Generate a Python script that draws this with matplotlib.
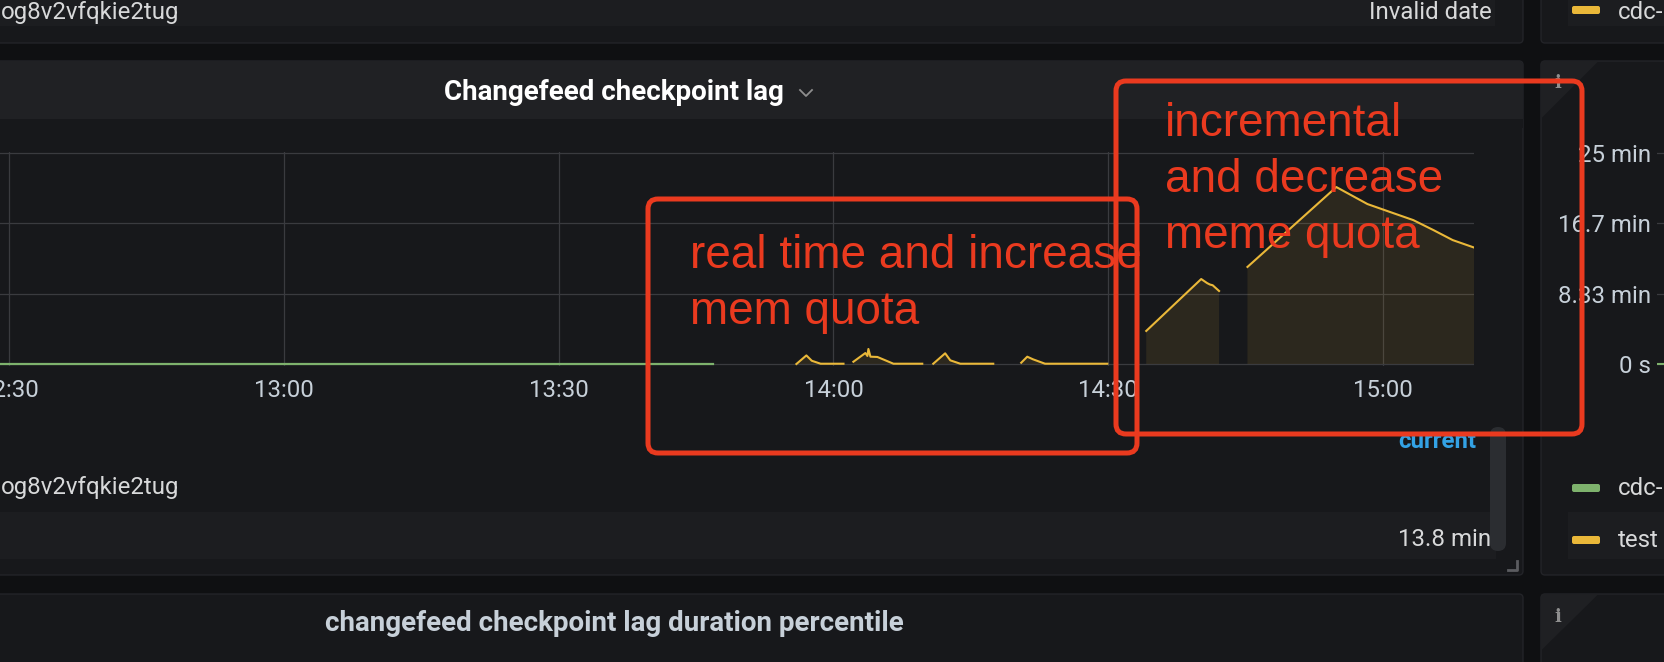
import matplotlib
matplotlib.use("Agg")
import matplotlib.pyplot as plt
import numpy as np
from matplotlib.patches import FancyBboxPatch, Rectangle, Polygon

plt.rcParams['font.family'] = ['Roboto', 'DejaVu Sans']

W, H = 1664, 662
nan = np.nan

# ---------------- data ----------------
# time axis: minutes after 12:00
x_tick_pos = [30, 60, 90, 120, 150, 180]
x_tick_labels = ["12:30", "13:00", "13:30", "14:00", "14:30", "15:00"]
y_tick_vals = [0, 500, 1000, 1500]          # seconds
y_tick_labels = ["0 s", "8.33 min", "16.7 min", "25 min"]

green_t = [29.0, 106.9]
green_v = [0, 0]

test_t = [115.96, 117.05, 117.64, 118.6, 121.1, 121.6,
          122.18, 123.49, 123.71, 123.82, 124.04, 124.8, 126.55, 129.7, 130.3,
          130.9, 132.2, 132.76, 133.85, 137.45, 139.0,
          140.5, 141.16, 141.8, 143.1, 149.9, 152.0,
          154.15, 160.15, 160.8, 161.1, 161.4, 162.1, 163.5,
          165.2, 174.9, 178.3, 181.1, 183.3, 185.5, 187.6, 189.93]
test_v = [0, 61, 23, 2, 2, nan,
          16, 78, 57, 107, 52, 50, 2, 2, nan,
          2, 76, 26, 2, 2, nan,
          9, 52, 33, 2, 2, nan,
          235, 604, 575, 565, 560, 519, nan,
          690, 1258, 1137, 1073, 1023, 952, 881, 828]

series_names = ["cdc-", "test"]
series_colors = ["#7eb26d", "#eab839"]
current_value = "13.8 min"

# ---------------- styling ----------------
PAGE = '#0f1012'
PANEL = '#17181b'
BAND = '#1c1d20'
HEADER = '#202124'
BORDER = '#232428'
GRID = '#3a3b3f'
TXT = '#d8d9da'
TICK = '#c7d0d9'
RED = '#ea3a1f'

fig = plt.figure(figsize=(W / 100, H / 100), dpi=100, facecolor=PAGE)

# background pixel-space axes
bg = fig.add_axes([0, 0, 1, 1], zorder=0)
bg.set_xlim(0, W)
bg.set_ylim(H, 0)
bg.axis('off')
bg.set_facecolor(PAGE)


def rbox(ax, x0, y0, x1, y1, fc, ec='none', r=4, lw=0, z=1):
    p = FancyBboxPatch((x0, y0), x1 - x0, y1 - y0,
                       boxstyle=f"round,pad=0,rounding_size={r}",
                       fc=fc, ec=ec, lw=lw, zorder=z)
    ax.add_patch(p)
    return p


def rect(ax, x0, y0, x1, y1, fc, z=1):
    ax.add_patch(Rectangle((x0, y0), x1 - x0, y1 - y0, fc=fc, ec='none', zorder=z))


# left panels
rbox(bg, -20, -20, 1523, 43, PANEL, ec=BORDER, lw=1)
rect(bg, -20, -20, 1495, 26, BAND, z=2)
rbox(bg, -20, 61, 1523, 575, PANEL, ec=BORDER, lw=1)
rbox(bg, -20, 61, 1523, 126, HEADER, z=2)
rect(bg, -20, 119, 1522.5, 128, PANEL, z=2)
rect(bg, -20, 512, 1496, 559, BAND, z=2)
rbox(bg, -20, 594, 1523, 700, PANEL, ec=BORDER, lw=1)

# right panels
rbox(bg, 1541, -20, 1700, 43, PANEL, ec=BORDER, lw=1)
rect(bg, 1568, -20, 1700, 26, BAND, z=2)
rbox(bg, 1541, 61, 1700, 575, PANEL, ec=BORDER, lw=1)
bg.add_patch(Polygon([(1541.5, 61.5), (1598, 61.5), (1541.5, 118)], closed=True,
                     fc='#1f2023', ec='none', zorder=2))
rect(bg, 1568, 512, 1700, 559, BAND, z=2)
rbox(bg, 1541, 594, 1700, 700, PANEL, ec=BORDER, lw=1)
bg.add_patch(Polygon([(1541.5, 594.5), (1598, 594.5), (1541.5, 650)], closed=True,
                     fc='#1f2023', ec='none', zorder=2))

# info icons
for yy in (88, 622):
    bg.text(1558, yy, "i", color='#8e8e8e', fontsize=13, fontweight='bold',
            family='DejaVu Serif', ha='center', va='baseline', zorder=3)

# top panel texts
bg.text(1, 19, "og8v2vfqkie2tug", color=TXT, fontsize=17.3, ha='left', va='baseline', zorder=3)
bg.text(1492, 19, "Invalid date", color=TXT, fontsize=17.3, ha='right', va='baseline', zorder=3)

# main panel title + chevron
bg.text(444, 100, "Changefeed checkpoint lag", color='#ffffff', fontsize=20,
        fontweight='bold', ha='left', va='baseline', zorder=3)
bg.plot([800, 806, 812], [90, 96, 90], color='#8e8e8e', lw=1.3, zorder=3)

# legend table area of main panel
bg.text(1476, 448, "current", color='#33a2e5', fontsize=17.3, fontweight='bold',
        ha='right', va='baseline', zorder=3)
bg.text(1, 494, "og8v2vfqkie2tug", color=TXT, fontsize=17.3, ha='left', va='baseline', zorder=3)
bg.text(1491, 546, current_value, color=TXT, fontsize=17.3, ha='right', va='baseline', zorder=3)
rbox(bg, 1490, 427, 1506, 551, '#2b2d31', r=8, z=3)
bg.plot([1508, 1516.5, 1516.5], [569.5, 569.5, 561], color='#5b5c60', lw=2, zorder=3)

# lower panel title
bg.text(614, 631, "changefeed checkpoint lag duration percentile", color=TICK,
        fontsize=20, fontweight='bold', ha='center', va='baseline', zorder=3)

# right panel legends
rbox(bg, 1572, 6, 1600, 14, series_colors[1], r=2, z=3)
bg.text(1618, 19, series_names[0], color=TXT, fontsize=17.3, ha='left', va='baseline', zorder=3)
for (yy, name, col) in ((488, series_names[0], series_colors[0]),
                        (540, series_names[1], series_colors[1])):
    rbox(bg, 1572, yy - 4, 1600, yy + 4, col, r=2, z=3)
    bg.text(1618, yy + 7, name, color=TXT, fontsize=17.3, ha='left', va='baseline', zorder=3)

# ---------------- main chart ----------------
top_px, bot_px = 152, 366
y0 = -2 * 1500 / 211
y1 = 1500 + 1 * 1500 / 211
ax = fig.add_axes([0, (H - bot_px) / H, 1474 / W, (bot_px - top_px) / H], zorder=2)
ax.patch.set_alpha(0)
for s in ax.spines.values():
    s.set_visible(False)
ax.set_xlim(29.02, 189.93)
ax.set_ylim(y0, y1)
ax.set_xticks(x_tick_pos, x_tick_labels)
ax.set_yticks(y_tick_vals)
ax.tick_params(axis='y', length=0, labelleft=False)
ax.tick_params(axis='x', length=0, pad=9.5, labelcolor=TICK, labelsize=17.3)
ax.grid(True, color=GRID, lw=0.9)
ax.set_axisbelow(True)

tt = np.array(test_t)
tv = np.array(test_v, dtype=float)
ax.fill_between(tt, 0, tv, color=series_colors[1], alpha=0.1, lw=0, zorder=2)
ax.plot(green_t, green_v, color=series_colors[0], lw=1.6, zorder=3)
ax.plot(tt, tv, color=series_colors[1], lw=1.5, zorder=4)

# ---------------- right chart (axis labels visible) ----------------
ax2 = fig.add_axes([1657 / W, (H - bot_px) / H, 60 / W, (bot_px - top_px) / H], zorder=2)
ax2.patch.set_alpha(0)
for s in ax2.spines.values():
    s.set_visible(False)
ax2.set_xlim(0, 1)
ax2.set_ylim(y0, y1)
ax2.set_xticks([])
ax2.set_yticks(y_tick_vals, y_tick_labels)
ax2.tick_params(axis='y', length=0, pad=4.3, labelcolor=TICK, labelsize=17.3)
ax2.grid(True, axis='y', color=GRID, lw=0.9)
ax2.plot([0, 1], [0, 0], color=series_colors[0], lw=1.5)

# ---------------- red annotations ----------------
ov = fig.add_axes([0, 0, 1, 1], zorder=10)
ov.set_xlim(0, W)
ov.set_ylim(H, 0)
ov.axis('off')
ov.patch.set_alpha(0)

rbox(ov, 648, 199, 1137, 453, 'none', ec=RED, lw=3.6, r=10, z=5)
rbox(ov, 1116, 81, 1582, 434, 'none', ec=RED, lw=3.6, r=10, z=5)
afont = dict(color=RED, fontsize=33, family='Liberation Sans', ha='left', va='baseline', zorder=6)
ov.text(690, 268, "real time and increase", **afont)
ov.text(690, 324, "mem quota", **afont)
ov.text(1165, 136, "incremental", **afont)
ov.text(1165, 192, "and decrease", **afont)
ov.text(1165, 248, "meme quota", **afont)

fig.savefig("out.png", dpi=100, facecolor=PAGE)
